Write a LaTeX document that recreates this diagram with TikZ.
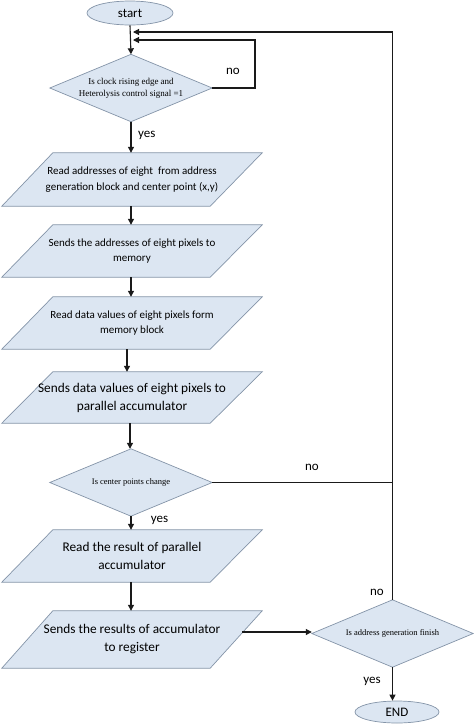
\documentclass[tikz,border=0pt]{standalone}
\usepackage{fontspec}
\setmainfont{Carlito}
\newfontfamily\tnr{Liberation Serif}
\usetikzlibrary{arrows.meta,calc,backgrounds}
\definecolor{boxfill}{HTML}{DCE6F2}
\definecolor{boxline}{HTML}{8494A8}
\definecolor{ink}{HTML}{1A1A1A}
\begin{document}
\begin{tikzpicture}[x=1pt,y=-1pt,
  arr/.style={draw=ink,line width=1.1pt,-{Triangle[length=6pt,width=6pt]}},
  ln/.style={draw=ink,line width=1.1pt},
  shp/.style={draw=boxline,fill=boxfill,line width=0.7pt},
  term/.style={ellipse,shp,inner sep=0pt,minimum width=86pt,minimum height=24pt,font=\fontsize{13}{15}\selectfont},
  pbox/.style={draw=none,inner sep=0pt,align=center,minimum width=260pt},
  dbox/.style={draw=none,inner sep=0pt,align=center,font=\tnr\fontsize{8.5}{12}\selectfont},
  lbl/.style={inner sep=0pt,font=\fontsize{13}{15}\selectfont},
  smallp/.style={font=\fontsize{11}{15.5}\selectfont},
  bigp/.style={font=\fontsize{13.3}{18}\selectfont}
]
\useasboundingbox (0,0) rectangle (474,724);
\usetikzlibrary{shapes.geometric}

% nodes
\node[term] (start) at (130,13) {start};
\node[dbox,minimum width=162pt,minimum height=67pt,font=\tnr\fontsize{9}{12}\selectfont] (d1) at (131,88) {Is clock rising edge and\\Heterolysis control signal =1};
\node[pbox,smallp,minimum height=53pt] (p1) at (132,179.5) {Read addresses of eight\ \ from address\\generation block and center point (x,y)};
\node[pbox,smallp,minimum height=52pt] (p2) at (132,251) {Sends the addresses of eight pixels to\\memory};
\node[pbox,smallp,minimum height=52pt] (p3) at (132,323) {Read data values of eight pixels form\\memory block};
\node[pbox,bigp,minimum height=51pt] (p4) at (132,397.5) {Sends data values of eight pixels to\\parallel accumulator};
\node[dbox,minimum width=162pt,minimum height=67pt] (d2) at (131,482.5) {Is center points change};
\node[pbox,bigp,minimum height=52pt] (p5) at (132,556) {Read the result of parallel\\accumulator};
\node[pbox,bigp,minimum height=57pt] (p6) at (132,639.5) {Sends the results of accumulator\\to register};
\node[dbox,minimum width=161pt,minimum height=67pt] (d3) at (392.5,633.5) {Is address generation finish};
\node[term,minimum width=84pt,minimum height=22pt] (end) at (397,712) {END};

% shapes on background
\begin{scope}[on background layer]
  \foreach \n in {d1,d2,d3}{
    \draw[shp] (\n.north) -- (\n.east) -- (\n.south) -- (\n.west) -- cycle;
  }
  \foreach \n in {p1,p2,p3,p4,p5,p6}{
    \draw[shp] (\n.south west) -- ([xshift=-52pt]\n.south east) -- (\n.north east) -- ([xshift=51pt]\n.north west) -- cycle;
  }
\end{scope}

% helper coordinates
\coordinate (loopin) at (255,40);
\coordinate (looptop) at (133,32);
\coordinate (p6r) at (242,632);

% connectors
\draw[arr] (start.south) -- (d1.north);
\draw[arr] (d1.east) -| (loopin) -- (loopin -| looptop);
\draw[arr] (d1.south) -- (d1.south |- p1.north);
\draw[arr] (p1.south -| d1.south) -- (p2.north -| d1.south);
\draw[arr] (p2.south -| d1.south) -- (p3.north -| d1.south);
\draw[arr] ([xshift=-4pt]p3.south -| d1.south) -- ([xshift=-4pt]p4.north -| d1.south);
\draw[arr] ([xshift=-1pt]p4.south -| d1.south) -- ([xshift=-1pt]d2.north);
\draw[arr] (d2.south) -- (d2.south |- p5.north);
\draw[arr] (p5.south -| d2.south) -- (p6.north -| d2.south);
\draw[arr] (p6r) -- (p6r -| d3.west);
\draw[ln] (d2.east) -- (d2.east -| d3.north);
\draw[arr] (d3.north) -- (d3.north |- looptop) -- (looptop);
\draw[arr] (d3.south) -- (d3.south |- end.north);

% labels
\node[lbl] (no1) at (233,71) {no};
\node[lbl,anchor=west] (yes1) at (138,135) {yes};
\node[lbl] (no2) at (312,467) {no};
\node[lbl] (yes2) at (159.5,520) {yes};
\node[lbl] (no3) at (377,592) {no};
\node[lbl] (yes3) at (372,681) {yes};
\end{tikzpicture}
\end{document}
